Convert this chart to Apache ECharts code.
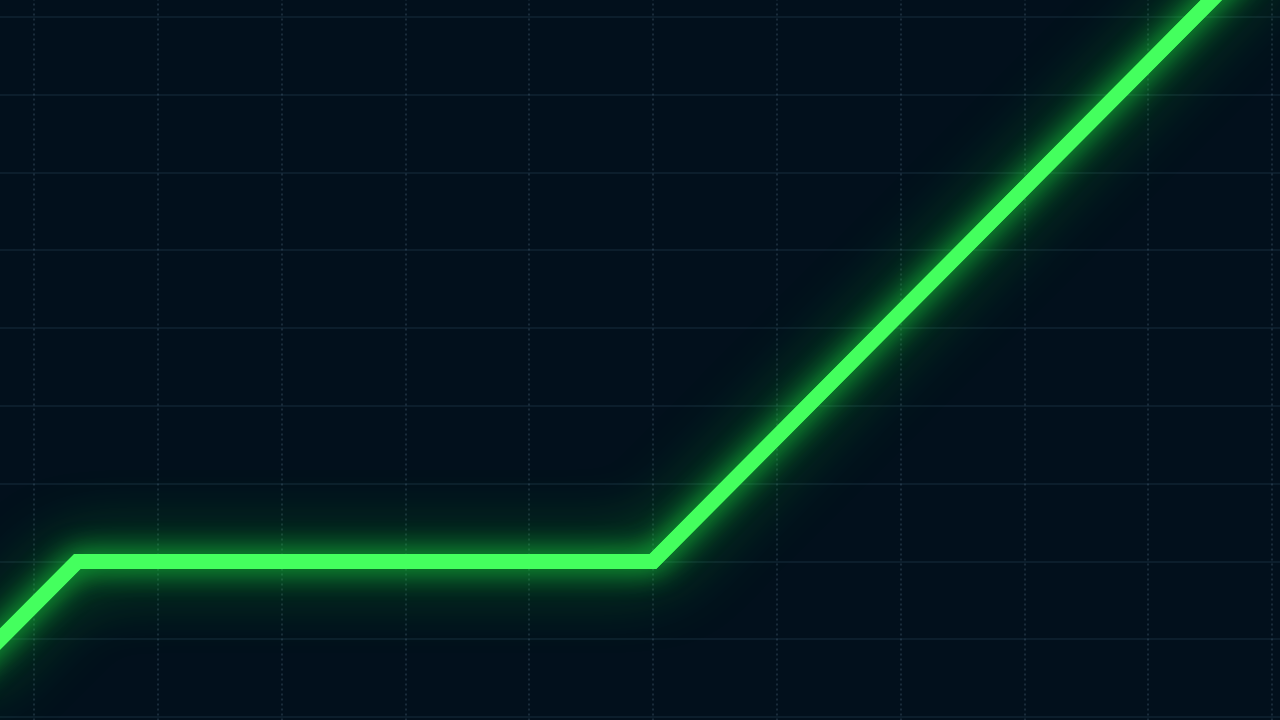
<!DOCTYPE html>
<html>
<head>
<meta charset="utf-8">
<script src="https://cdn.jsdelivr.net/npm/echarts@6/dist/echarts.min.js"></script>
<style>
html,body{margin:0;padding:0;background:#02101c;}
#chart{width:1280px;height:720px;}
</style>
</head>
<body>
<div id="chart"></div>
<script>
// data
const xValues = [4, 13.5, 60, 110];
const yValues = [14.8, 30, 30, 110];

const seriesData = xValues.map((x, i) => [x, yValues[i]]);

const chart = echarts.init(document.getElementById('chart'));
chart.setOption({
  backgroundColor: '#02101c',
  animation: false,
  grid: { left: -89.8, right: -16.8, top: -6.5, bottom: -74.8, outerBoundsMode: 'none', containLabel: false },
  xAxis: {
    type: 'value', min: 0, max: 112, interval: 10,
    axisLine: { show: false }, axisTick: { show: false }, axisLabel: { show: false },
    splitLine: { show: true, lineStyle: { color: 'rgba(110,140,165,0.30)', width: 1.5, type: [2, 3] } }
  },
  yAxis: {
    type: 'value', min: 0, max: 103, interval: 10,
    axisLine: { show: false }, axisTick: { show: false }, axisLabel: { show: false },
    splitLine: { show: true, lineStyle: { color: 'rgba(45,75,95,0.24)', width: 2 } }
  },
  series: [{
    type: 'line',
    data: seriesData,
    clip: true,
    symbol: 'none',
    silent: true,
    lineStyle: {
      color: '#44ff5e', width: 15, join: 'miter',
      shadowColor: 'rgba(20,220,50,0.9)', shadowBlur: 70
    }
  }, {
    type: 'line',
    data: seriesData,
    clip: true,
    symbol: 'none',
    lineStyle: {
      color: '#44ff5e', width: 15, join: 'miter',
      shadowColor: 'rgba(30,255,70,0.85)', shadowBlur: 28
    }
  }]
});
</script>
</body>
</html>
